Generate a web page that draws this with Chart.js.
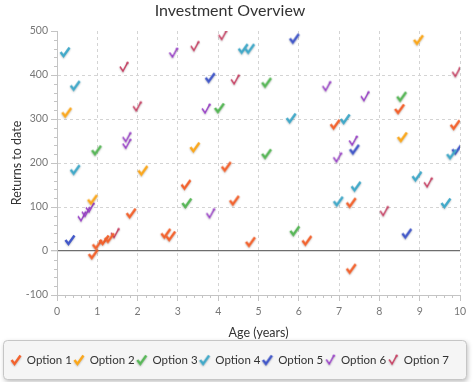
<!DOCTYPE html>
<html>
<head>
<meta charset="utf-8">
<script src="https://cdn.jsdelivr.net/npm/chart.js@4.4.0/dist/chart.umd.min.js"></script>
<style>
    html, body { margin: 0; padding: 0; background: #fff; }
</style>
</head>
<body>
<canvas id="scatterChart" width="474" height="382"></canvas>
<script>
var FONT = 'Lato, "Open Sans", sans-serif';

var seriesNames = ['Option 1', 'Option 2', 'Option 3', 'Option 4', 'Option 5', 'Option 6', 'Option 7'];
var seriesColors = ['#f3622d', '#fba71b', '#57b757', '#41a9c9', '#4258c9', '#9a42c8', '#c84164'];

// [age in years, returns to date]
var option1 = [[0.9, -7], [1.0, 15], [1.17, 25], [1.3, 30], [1.84, 86], [2.7, 40], [2.82, 34], [3.2, 151], [4.2, 192],
    [4.4, 115], [4.8, 21], [6.2, 24], [6.9, 288], [7.3, 110], [7.3, -40], [8.5, 323], [9.88, 287]];
var option2 = [[0.24, 315], [0.88, 117], [2.13, 183], [3.42, 236], [8.57, 259], [8.97, 480]];
var option3 = [[0.98, 229], [3.22, 109], [4.03, 325], [5.2, 383], [5.2, 221], [5.9, 46], [8.55, 351]];
var option4 = [[0.2, 452], [0.45, 376], [0.45, 185], [4.62, 460], [4.78, 460], [5.81, 302], [6.98, 113], [7.15, 300],
    [7.42, 147], [8.93, 170], [9.65, 109], [9.79, 220]];
var option5 = [[0.32, 25], [3.8, 394], [5.89, 483], [7.38, 231], [8.68, 40], [9.92, 231]];
var option6 = [[0.62, 78], [0.72, 88], [0.82, 98], [1.73, 258], [1.73, 243], [2.89, 450], [3.7, 323], [3.81, 85],
    [6.69, 374], [6.96, 212], [7.35, 250], [7.64, 351]];
var option7 = [[1.44, 40], [1.66, 418], [1.99, 328], [3.42, 465], [4.11, 490], [4.42, 389], [8.12, 90], [9.21, 155], [9.91, 406]];

var xTicks = [0, 1, 2, 3, 4, 5, 6, 7, 8, 9, 10];
var yTicks = [-100, 0, 100, 200, 300, 400, 500];

var allSeries = [option1, option2, option3, option4, option5, option6, option7];

// little check mark used as the point style
function makeCheck(color, thin) {
    var c = document.createElement('canvas');
    c.width = 16;
    c.height = 16;
    var g = c.getContext('2d');
    g.shadowColor = 'rgba(0,0,0,0.22)';
    g.shadowBlur = 2;
    g.shadowOffsetY = 1;
    g.strokeStyle = color;
    g.fillStyle = color;
    g.lineJoin = 'miter';
    g.beginPath();
    if (thin) {
        g.lineWidth = 1.5;
        g.moveTo(4, 7.5);
        g.lineTo(7, 12);
        g.lineTo(11.3, 4.2);
        g.stroke();
        g.beginPath();
        g.arc(11.6, 3.8, 1.2, 0, Math.PI * 2);
        g.fill();
    } else {
        g.lineWidth = 2.5;
        g.moveTo(3.5, 8);
        g.lineTo(6.5, 12);
        g.lineTo(12.5, 3.5);
        g.stroke();
    }
    return c;
}

var datasets = allSeries.map(function (series, i) {
    return {
        label: seriesNames[i],
        data: series.map(function (p) { return {x: p[0], y: p[1]}; }),
        pointStyle: makeCheck(seriesColors[i], i >= 5),
        pointRadius: 6,
        backgroundColor: seriesColors[i],
        borderColor: seriesColors[i]
    };
});

var minorTicks = {
    id: 'minorTicks',
    afterDraw: function (chart) {
        var ctx = chart.ctx, xs = chart.scales.x, ys = chart.scales.y, area = chart.chartArea;
        ctx.save();
        ctx.strokeStyle = '#c4c4c4';
        ctx.lineWidth = 1;
        ctx.beginPath();
        for (var i = 0; i < 50; i++) {
            if (i % 5 === 0) continue;
            var px = Math.round(xs.getPixelForValue(i * 0.2)) + 0.5;
            ctx.moveTo(px, area.bottom);
            ctx.lineTo(px, area.bottom + 3);
        }
        for (var v = -100; v < 500; v += 20) {
            if (v % 100 === 0) continue;
            var py = Math.round(ys.getPixelForValue(v)) + 0.5;
            ctx.moveTo(area.left - 3, py);
            ctx.lineTo(area.left, py);
        }
        ctx.stroke();
        ctx.restore();
    }
};

var legendFrame = {
    id: 'legendFrame',
    beforeDraw: function (chart) {
        var lg = chart.legend;
        if (!lg) return;
        var ctx = chart.ctx;
        var top = Math.round(lg.top - 12) + 0.5;
        ctx.save();
        ctx.shadowColor = 'rgba(0,0,0,0.28)';
        ctx.shadowBlur = 5;
        ctx.shadowOffsetX = 1;
        ctx.shadowOffsetY = 2;
        ctx.fillStyle = '#f5f5f5';
        ctx.beginPath();
        ctx.roundRect(3.5, top, chart.width - 11, 39, 4);
        ctx.fill();
        ctx.shadowColor = 'rgba(0,0,0,0)';
        ctx.strokeStyle = '#c6c6c6';
        ctx.lineWidth = 1;
        ctx.stroke();
        ctx.restore();
    }
};

var chart = new Chart(document.getElementById('scatterChart').getContext('2d'), {
    type: 'scatter',
    data: {datasets: datasets},
    plugins: [legendFrame, minorTicks],
    options: {
        responsive: false,
        animation: false,
        devicePixelRatio: 1,
        layout: {padding: {left: 0, right: 14, top: 0, bottom: 6.25}},
        plugins: {
            title: {
                display: true,
                text: 'Investment Overview',
                color: '#333',
                font: {family: FONT, size: 16, weight: 'normal'},
                padding: {top: 1, bottom: 10.8}
            },
            legend: {
                position: 'bottom',
                labels: {
                    usePointStyle: true,
                    pointStyleWidth: 10,
                    boxHeight: 12,
                    padding: 2,
                    color: '#333',
                    font: {family: FONT, size: 11.5}
                }
            },
            tooltip: {enabled: false}
        },
        scales: {
            x: {
                type: 'linear',
                min: 0,
                max: 10,
                afterFit: function (scale) { scale.height = 57.25; },
                afterBuildTicks: function (scale) {
                    scale.ticks = xTicks.map(function (v) { return {value: v}; });
                },
                ticks: {color: '#777', padding: 4, font: {family: FONT, size: 10.5}},
                grid: {
                    tickLength: 6,
                    tickColor: '#c4c4c4',
                    color: function (c) {
                        return c.tick && c.tick.value === 0 ? 'rgba(0,0,0,0)' : '#d4d4d4';
                    }
                },
                border: {color: '#c4c4c4', dash: [3, 3]},
                title: {
                    display: true,
                    text: 'Age (years)',
                    color: '#333',
                    font: {family: FONT, size: 12.5},
                    padding: {top: 0, bottom: 12.25}
                }
            },
            y: {
                type: 'linear',
                min: -100,
                max: 500,
                afterFit: function (scale) { scale.width = 57; },
                afterBuildTicks: function (scale) {
                    scale.ticks = yTicks.map(function (v) { return {value: v}; });
                },
                ticks: {color: '#777', padding: 3, font: {family: FONT, size: 10.5}},
                grid: {
                    tickLength: 6,
                    tickColor: '#c4c4c4',
                    lineWidth: function (c) { return c.tick && c.tick.value === 0 ? 1.3 : 1; },
                    color: function (c) {
                        if (!c.tick) return '#d4d4d4';
                        if (c.tick.value === 0) return '#6e6e6e';
                        if (c.tick.value === 500 || c.tick.value === -100) return 'rgba(0,0,0,0)';
                        return '#d4d4d4';
                    }
                },
                border: {
                    color: '#c4c4c4',
                    dash: function (c) { return c.tick && c.tick.value === 0 ? [] : [3, 3]; }
                },
                title: {
                    display: true,
                    text: 'Returns to date',
                    color: '#333',
                    font: {family: FONT, size: 12.5},
                    padding: {top: 9, bottom: 0}
                }
            }
        }
    }
});
</script>
</body>
</html>
